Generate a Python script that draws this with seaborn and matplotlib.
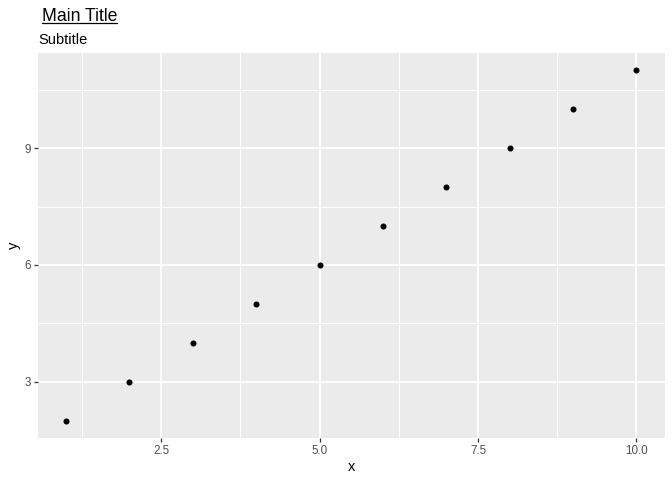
import numpy as np
import pandas as pd
import matplotlib
matplotlib.use("Agg")
import matplotlib.pyplot as plt
import seaborn as sns
from matplotlib.lines import Line2D
from matplotlib.ticker import FixedLocator

# data
x_vals = [1, 2, 3, 4, 5, 6, 7, 8, 9, 10]
y_vals = [2, 3, 4, 5, 6, 7, 8, 9, 10, 11]
x_ticks = [2.5, 5.0, 7.5, 10.0]
y_ticks = [3, 6, 9]

df = pd.DataFrame({"x": x_vals, "y": y_vals})

sns.set_theme(style="darkgrid")
plt.rcParams['font.family'] = ['Liberation Sans', 'DejaVu Sans']

W, H = 672, 480
fig = plt.figure(figsize=(W / 100, H / 100), dpi=100)
# panel in pixels: left 38, right 665, top 53, bottom 438
ax = fig.add_axes([37.5 / W, 1 - 438 / H, (665 - 37.5) / W, (438 - 53) / H])
ax.set_facecolor("#EBEBEB")

sns.scatterplot(data=df, x="x", y="y", ax=ax, color="black", s=19,
                edgecolor="black", linewidth=0, zorder=3)

ax.set_xlim(0.55, 10.45)
ax.set_ylim(1.55, 11.45)
ax.set_xticks(x_ticks)
ax.set_xticklabels(["2.5", "5.0", "7.5", "10.0"])
ax.set_yticks(y_ticks)
ax.set_yticklabels(["3", "6", "9"])
ax.xaxis.set_minor_locator(FixedLocator([1.25, 3.75, 6.25, 8.75]))
ax.yaxis.set_minor_locator(FixedLocator([1.5, 4.5, 7.5, 10.5]))

ax.grid(which="major", color="white", linewidth=1.3)
ax.grid(which="minor", color="white", linewidth=0.65)
ax.set_axisbelow(True)
for sp in ax.spines.values():
    sp.set_visible(False)

ax.tick_params(which="major", length=2.6, width=0.9, color="#333333",
               labelsize=8.4, labelcolor="#4D4D4D", pad=2.1, direction="out",
               bottom=True, left=True)
ax.tick_params(which="minor", length=0)

ax.set_xlabel("x", fontsize=10.5, color="black", labelpad=2.5)
ax.set_ylabel("y", fontsize=10.5, color="black", labelpad=2.5)

# title with underline
title = fig.text(42 / W, 1 - 21 / H, "Main Title", fontsize=12.7, color="black",
                 ha="left", va="baseline")
fig.text(38 / W, 1 - 44 / H, "Subtitle", fontsize=10.5, color="black",
         ha="left", va="baseline")

fig.canvas.draw()
bb = title.get_window_extent()
uy = 1 - 22.5 / H
fig.add_artist(Line2D([bb.x0 / W, bb.x1 / W], [uy, uy], color="black",
                      linewidth=0.9, transform=fig.transFigure))

fig.savefig("out.png", dpi=100, facecolor="white")
